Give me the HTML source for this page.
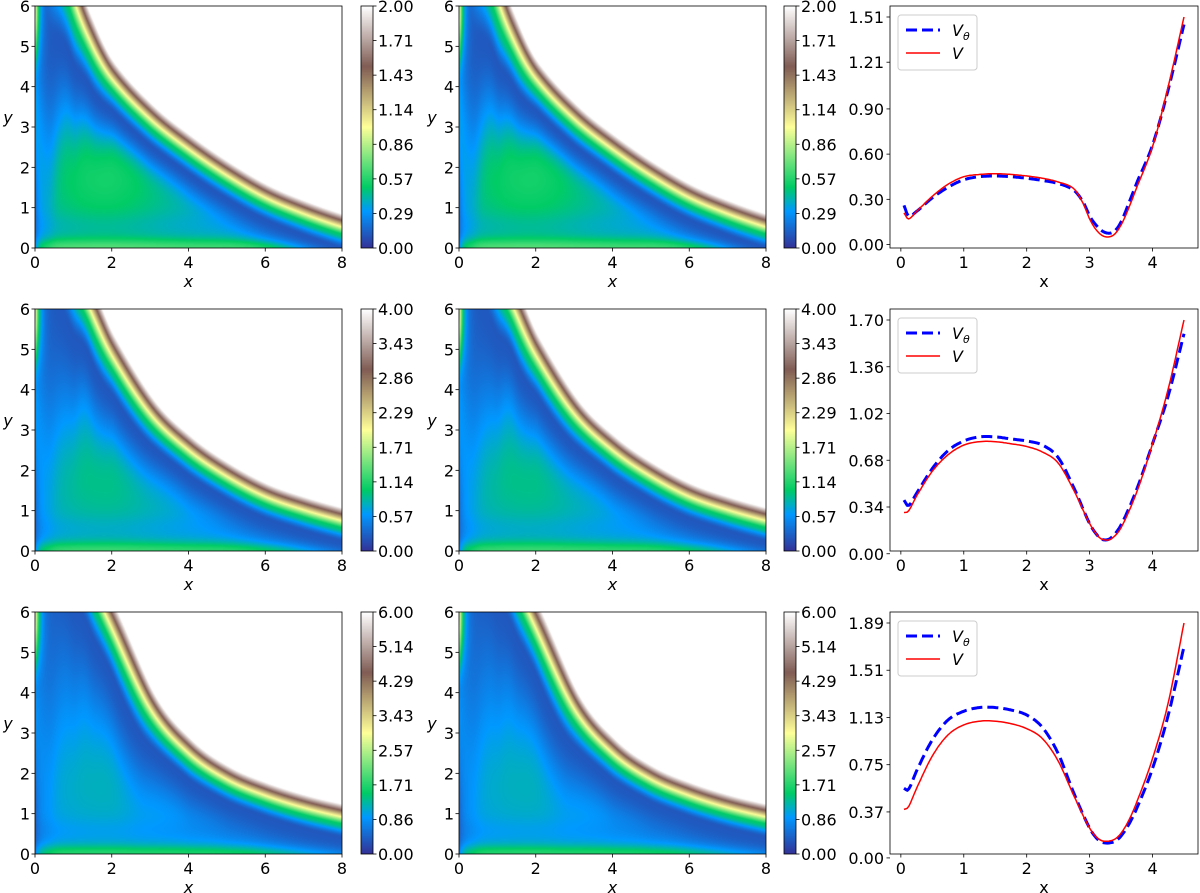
<!DOCTYPE html>
<html><head><meta charset="utf-8">
<style>
body{margin:0;background:#fff;}
#wrap{position:relative;width:1200px;height:893px;overflow:hidden;background:#fff;}
canvas{position:absolute;}
svg{position:absolute;left:0;top:0;}
text{font-family:"DejaVu Sans","Liberation Sans",sans-serif;font-size:16px;fill:#000;}
</style></head>
<body>
<div id="wrap">
<svg id="ov" width="1200" height="893"></svg>
</div>
<script>
// ---- data ----
const ridgeX = [-0.5, 0, 0.5, 1, 1.5, 2, 3, 4, 5, 6, 7, 8, 9];
const ridgeRow1 = [16, 12, 8.2, 6.2, 5.0, 4.2, 3.2, 2.45, 1.8, 1.25, 0.85, 0.52, 0.25];
const ridgeRow2 = [17, 13, 9.3, 7.1, 5.85, 4.85, 3.4, 2.5, 1.85, 1.35, 1.02, 0.75, 0.5];
const ridgeRow3 = [18, 14, 10.3, 8.1, 6.7, 5.6, 3.6, 2.5, 1.85, 1.45, 1.15, 0.92, 0.72];
const interiorBase = [0.19, 0.17, 0.155];
const interiorBump = [0.08, 0.06, 0.04];
const troughWidth = [0.45, 0.55, 0.65];
const cbarTicksRow1 = ["0.00","0.29","0.57","0.86","1.14","1.43","1.71","2.00"];
const cbarTicksRow2 = ["0.00","0.57","1.14","1.71","2.29","2.86","3.43","4.00"];
const cbarTicksRow3 = ["0.00","0.86","1.71","2.57","3.43","4.29","5.14","6.00"];
const heatXTicks = [0, 2, 4, 6, 8];
const heatYTicks = [0, 1, 2, 3, 4, 5, 6];

const lineX1 = [0.05,0.12,0.25,0.5,0.75,1.0,1.25,1.5,1.75,2.0,2.25,2.5,2.75,2.9,3.0,3.1,3.2,3.3,3.4,3.5,3.6,3.75,4.0,4.25,4.5];
const vRow1 = [0.21,0.17,0.22,0.32,0.40,0.45,0.465,0.47,0.465,0.455,0.44,0.415,0.37,0.27,0.17,0.10,0.06,0.05,0.07,0.13,0.22,0.38,0.65,1.05,1.51];
const vthRow1 = [0.26,0.19,0.22,0.31,0.38,0.43,0.45,0.455,0.45,0.44,0.425,0.405,0.36,0.28,0.19,0.13,0.09,0.075,0.09,0.15,0.25,0.41,0.66,1.03,1.46];
const lineX2 = [0.05,0.12,0.25,0.5,0.75,1.0,1.25,1.5,1.75,2.0,2.25,2.5,2.75,3.0,3.15,3.25,3.35,3.5,3.75,4.0,4.25,4.5];
const vRow2 = [0.30,0.31,0.42,0.60,0.72,0.79,0.815,0.815,0.80,0.78,0.74,0.66,0.46,0.22,0.12,0.10,0.11,0.19,0.45,0.80,1.20,1.70];
const vthRow2 = [0.39,0.35,0.44,0.62,0.75,0.82,0.85,0.85,0.835,0.82,0.79,0.70,0.48,0.22,0.12,0.10,0.12,0.21,0.47,0.80,1.15,1.60];
const lineX3 = [0.05,0.12,0.25,0.5,0.75,1.0,1.25,1.5,1.75,2.0,2.25,2.5,2.75,3.0,3.15,3.3,3.45,3.6,3.75,4.0,4.25,4.5];
const vRow3 = [0.39,0.41,0.56,0.82,0.99,1.07,1.10,1.10,1.08,1.04,0.96,0.78,0.50,0.24,0.15,0.135,0.17,0.28,0.45,0.80,1.25,1.89];
const vthRow3 = [0.56,0.55,0.70,0.95,1.11,1.18,1.21,1.21,1.19,1.15,1.05,0.84,0.52,0.24,0.14,0.12,0.15,0.25,0.40,0.72,1.15,1.70];
const lineTicksRow1 = ["0.00","0.30","0.60","0.90","1.21","1.51"];
const lineTicksRow2 = ["0.00","0.34","0.68","1.02","1.36","1.70"];
const lineTicksRow3 = ["0.00","0.37","0.75","1.13","1.51","1.89"];
const lineXTicks = [0, 1, 2, 3, 4];

// ---- layout ----
const rowTop = [6, 309, 612], PH = 242;
const heatLeft = [35, 459], PW = 307;
const cbLeft = [361, 784], CBW = 12;
const lineLeft = 890, LW = 308;
const ridges = [ridgeRow1, ridgeRow2, ridgeRow3];
const cbTicks = [cbarTicksRow1, cbarTicksRow2, cbarTicksRow3];
const lineXs = [lineX1, lineX2, lineX3];
const vs = [vRow1, vRow2, vRow3];
const vths = [vthRow1, vthRow2, vthRow3];
const lTicks = [lineTicksRow1, lineTicksRow2, lineTicksRow3];

const NS = "http://www.w3.org/2000/svg";
const ov = document.getElementById('ov');
const wrap = document.getElementById('wrap');
function mk(tag, attrs, parent){const e=document.createElementNS(NS,tag);for(const k in attrs)e.setAttribute(k,attrs[k]);(parent||ov).appendChild(e);return e;}

const stops=[[0,[51,51,153]],[0.15,[0,153,255]],[0.25,[0,204,102]],[0.5,[255,255,153]],[0.75,[128,92,84]],[1,[255,255,255]]];
function terrain(v){v=Math.max(0,Math.min(1,v));for(let i=1;i<stops.length;i++){if(v<=stops[i][0]){const a=stops[i-1],b=stops[i];const f=(v-a[0])/(b[0]-a[0]);return [0,1,2].map(j=>a[1][j]+(b[1][j]-a[1][j])*f);}}return stops[stops.length-1][1];}
function spline(xs,ys,x){
  let i=1;while(i<xs.length-1&&x>xs[i])i++;
  const x0=xs[i-1],x1=xs[i],h=x1-x0,u=Math.max(0,Math.min(1,(x-x0)/h));
  const m=k=>{const a=Math.max(0,k-1),b=Math.min(xs.length-1,k+1);return (ys[b]-ys[a])/(xs[b]-xs[a]);};
  const m0=m(i-1)*h,m1=m(i)*h,u2=u*u,u3=u2*u;
  return (2*u3-3*u2+1)*ys[i-1]+(u3-2*u2+u)*m0+(-2*u3+3*u2)*ys[i]+(u3-u2)*m1;
}
function smooth(a,b,x){const t=Math.max(0,Math.min(1,(x-a)/(b-a)));return t*t*(3-2*t);}

function field(r,x,y){
  const R=ridges[r];
  const Ry=spline(ridgeX,R,x);
  const d=(spline(ridgeX,R,x+0.1)-spline(ridgeX,R,x-0.1))/0.2;
  const t=(y-Ry)/Math.sqrt(1+d*d);
  let I=interiorBase[r]+interiorBump[r]*Math.exp(-Math.pow((x-1.8)/1.8,2)-Math.pow((y-1.8)/1.6,2));
  I+=0.12*Math.exp(-Math.pow(y/0.22,2))-0.015*Math.exp(-Math.pow((y-0.6)/0.3,2));
  I*=1-0.6*Math.exp(-x/0.15)*(1-smooth(1,4,y));
  let v;
  const tw=troughWidth[r];
  if(t>=0) v=0.5+1.6*t;
  else if(t>=-0.17) v=0.5+1.5*t;
  else if(t>=-0.5) {v=0.245-0.19*smooth(-0.17,-0.5,t);}
  else {const w=Math.exp(-Math.pow((t+0.5)/tw,2));v=0.055*w+I*(1-w);}
  v+=0.5*Math.exp(-x/0.1)*smooth(4,6,y);
  return v;
}

for(let r=0;r<3;r++){
  for(let c=0;c<2;c++){
    const cv=document.createElement('canvas');
    cv.width=PW;cv.height=PH;cv.style.left=heatLeft[c]+'px';cv.style.top=rowTop[r]+'px';
    
    
    wrap.insertBefore(cv,ov);
    const ctx=cv.getContext('2d');const img=ctx.createImageData(PW,PH);
    for(let py=0;py<PH;py++)for(let px=0;px<PW;px++){
      const x=(px+0.5)/PW*8,y=(PH-py-0.5)/PH*6;
      const col=terrain(field(r,x,y));const k=(py*PW+px)*4;
      img.data[k]=col[0];img.data[k+1]=col[1];img.data[k+2]=col[2];img.data[k+3]=255;
    }
    ctx.putImageData(img,0,0);
    const cb=document.createElement('canvas');cb.width=CBW;cb.height=PH;
    cb.style.left=cbLeft[c]+'px';cb.style.top=rowTop[r]+'px';
    
    
    wrap.insertBefore(cb,ov);
    const cx=cb.getContext('2d');
    for(let py=0;py<PH;py++){const col=terrain(1-py/(PH-1));cx.fillStyle='rgb('+col.map(Math.round).join(',')+')';cx.fillRect(0,py,CBW,1);}
    const L=heatLeft[c],T=rowTop[r];
    const fr=mk('rect',{x:L,y:T,width:PW,height:PH,fill:'none',stroke:'#000','stroke-width':0.8});
    
    heatXTicks.forEach(v=>{const X=L+v/8*PW;mk('line',{x1:X,x2:X,y1:T+PH,y2:T+PH+3.5,stroke:'#000','stroke-width':0.8});
      const tx=mk('text',{x:X,y:T+PH+20,'text-anchor':'middle'});tx.textContent=v;
      });
    heatYTicks.forEach(v=>{const Y=T+PH-v/6*PH;mk('line',{x1:L-3.5,x2:L,y1:Y,y2:Y,stroke:'#000','stroke-width':0.8});
      const tx=mk('text',{x:L-5,y:Y+6,'text-anchor':'end'});tx.textContent=v;
      });
    const xl=mk('text',{x:L+PW/2,y:T+PH+39,'text-anchor':'middle','font-style':'italic'});xl.textContent='x';
    
    const yl=mk('text',{x:L-27,y:T+117,'text-anchor':'middle','font-style':'italic'});yl.textContent='y';
    
    const CL=cbLeft[c];
    mk('rect',{x:CL,y:T,width:CBW,height:PH,fill:'none',stroke:'#000','stroke-width':0.8});
    cbTicks[r].forEach((s,i)=>{const Y=T+PH-i/7*PH;mk('line',{x1:CL+CBW,x2:CL+CBW+3.5,y1:Y,y2:Y,stroke:'#000','stroke-width':0.8});
      const tx=mk('text',{x:CL+CBW+5,y:Y+6});tx.textContent=s;
      });
  }
  const xs=lineXs[r],V=vs[r],Vt=vths[r],T=rowTop[r],L=lineLeft;
  const all=V.concat(Vt);const dmin=Math.min(...all),dmax=Math.max(...all),dr=dmax-dmin;
  const y0=dmin-0.05*dr,y1=dmax+0.05*dr;
  const x0=xs[0]-0.05*(xs[xs.length-1]-xs[0]),x1=xs[xs.length-1]+0.05*(xs[xs.length-1]-xs[0]);
  const sx=v=>L+(v-x0)/(x1-x0)*LW, sy=v=>T+PH-(v-y0)/(y1-y0)*PH;
  const cid='clip'+r;const cp=mk('clipPath',{id:cid});mk('rect',{x:L,y:T,width:LW,height:PH},cp);
  const pth=arr=>{let s='';const n=arr.length;for(let k=0;k<=(n-1)*8;k++){const xv=xs[0]+(xs[n-1]-xs[0])*k/((n-1)*8);const yv=spline(xs,arr,xv);s+=(k?'L':'M')+sx(xv).toFixed(1)+','+sy(yv).toFixed(1);}return s;};
  const bl=mk('path',{d:pth(Vt),fill:'none',stroke:'#0000ff','stroke-width':3,'stroke-dasharray':'11,5','clip-path':'url(#'+cid+')','stroke-linejoin':'round'});
  
  const rl=mk('path',{d:pth(V),fill:'none',stroke:'#ff0000','stroke-width':1.5,'clip-path':'url(#'+cid+')','stroke-linejoin':'round'});
  
  mk('rect',{x:L,y:T,width:LW,height:PH,fill:'none',stroke:'#000','stroke-width':0.8});
  lineXTicks.forEach(v=>{const X=sx(v);mk('line',{x1:X,x2:X,y1:T+PH,y2:T+PH+3.5,stroke:'#000','stroke-width':0.8});
    const tx=mk('text',{x:X,y:T+PH+20,'text-anchor':'middle'});tx.textContent=v;
    });
  lTicks[r].forEach(s=>{const Y=sy(parseFloat(s));mk('line',{x1:L-3.5,x2:L,y1:Y,y2:Y,stroke:'#000','stroke-width':0.8});
    const tx=mk('text',{x:L-6,y:Y+6,'text-anchor':'end'});tx.textContent=s;
    });
  const xl=mk('text',{x:L+LW/2,y:T+PH+39,'text-anchor':'middle'});xl.textContent='x';
  
  const g=mk('g',{});
  mk('rect',{x:898,y:T+9,width:79,height:55,rx:3,fill:'#fff','fill-opacity':0.8,stroke:'#ccc','stroke-width':1},g);
  mk('line',{x1:906,x2:940,y1:T+24,y2:T+24,stroke:'#0000ff','stroke-width':3,'stroke-dasharray':'11,5'},g);
  mk('line',{x1:906,x2:940,y1:T+47,y2:T+47,stroke:'#ff0000','stroke-width':1.5},g);
  const t1=mk('text',{x:952,y:T+30,'font-style':'italic'},g);t1.innerHTML='V<tspan font-size="11" dy="4">θ</tspan>';
  
  const t2=mk('text',{x:952,y:T+53,'font-style':'italic'},g);t2.textContent='V';
  
}
</script>
</body></html>
